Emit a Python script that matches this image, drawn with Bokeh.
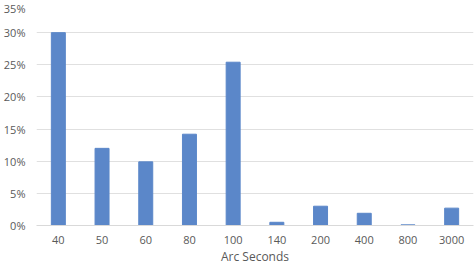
from bokeh.plotting import figure
from bokeh.embed import file_html
from bokeh.resources import INLINE
from bokeh.models import NumeralTickFormatter, FixedTicker, Range1d

categories = ["40", "50", "60", "80", "100", "140", "200", "400", "800", "3000"]
values = [0.300, 0.120, 0.099, 0.142, 0.254, 0.005, 0.030, 0.019, 0.001, 0.027]
y_ticks = [0, 0.05, 0.10, 0.15, 0.20, 0.25, 0.30, 0.35]
x_title = "Arc Seconds"

p = figure(x_range=categories, width=474, height=267, output_backend="svg",
           toolbar_location=None, min_border_left=33, min_border_right=1,
           min_border_top=0, min_border_bottom=0)
p.y_range = Range1d(0, 0.35)
p.vbar(x=categories, top=values, width=0.32, color="#5b87c9")

p.outline_line_color = None
p.xgrid.grid_line_color = None
p.ygrid.grid_line_color = "#e0e0e0"
p.ygrid.grid_line_width = 1

p.yaxis.ticker = FixedTicker(ticks=y_ticks)
p.yaxis.formatter = NumeralTickFormatter(format="0%")
p.yaxis.axis_line_color = None
p.yaxis.major_tick_line_color = None
p.yaxis.minor_tick_line_color = None
p.yaxis.major_label_standoff = 5

p.xaxis.axis_line_color = "#d9d9d9"
p.xaxis.major_tick_line_color = None
p.xaxis.minor_tick_line_color = None
p.xaxis.major_label_standoff = 4
p.xaxis.axis_label = x_title
p.xaxis.axis_label_standoff = 1
p.xaxis.axis_label_text_font_style = "normal"

for ax in (p.xaxis, p.yaxis):
    ax.major_label_text_font = "Open Sans"
    ax.major_label_text_font_size = "11px"
    ax.major_label_text_color = "#595959"
    ax.axis_label_text_font = "Open Sans"
    ax.axis_label_text_font_size = "12px"
    ax.axis_label_text_color = "#595959"

open("out.html", "w").write(file_html(p, INLINE))
